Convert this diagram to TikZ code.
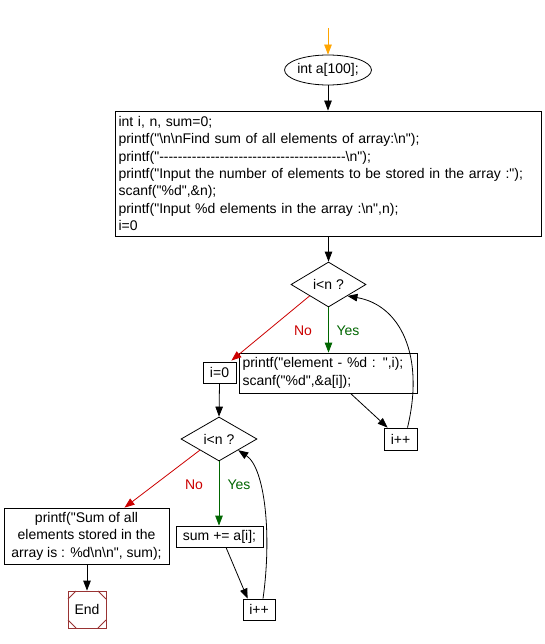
\documentclass[tikz,border=0pt]{standalone}
\usepackage{fontspec}
\newfontfamily\arialf{Liberation Sans}
\usetikzlibrary{shapes.geometric,arrows.meta,calc}
\definecolor{noRed}{HTML}{CC0000}
\definecolor{yesGreen}{HTML}{006600}
\definecolor{endRed}{HTML}{993333}
\definecolor{startOrange}{HTML}{FFA500}
\tikzset{
  x=1pt, y=-1pt,
  every node/.style={font=\arialf\fontsize{14}{17.4}\selectfont},
  every path/.style={line width=0.8pt},
  arr/.style={draw=black, -{Triangle[length=10pt,width=7.5pt]}},
  procbox/.style={draw, rectangle, inner sep=3pt},
  decision/.style={draw, diamond, aspect=1.667, minimum width=75pt, minimum height=45pt, inner sep=0pt},
  nolab/.style={text=noRed},
  yeslab/.style={text=yesGreen},
}
\begin{document}
\begin{tikzpicture}
\useasboundingbox[fill=white] (0,0) rectangle (544,644);

\coordinate (s) at (328,28);
\node[draw, ellipse, minimum width=82pt, minimum height=30pt, inner sep=0pt] (ell) at (328,70) {int a[100];};

\node[procbox, minimum width=426pt, minimum height=125pt, text width=419pt, align=left, anchor=center] (init) at (328,173.5)
{int i, n, sum=0;\\
printf("\textbackslash n\textbackslash nFind sum of all elements of array:\textbackslash n");\\
printf("----------------------------------------\textbackslash n");\\
printf("Input the number of elements to be stored in the array :");\\
scanf("\%d",\&n);\\
printf("Input \%d elements in the array :\textbackslash n",n);\\
i=0};

\node[decision] (d1) at (328.5,284.5) {i<n ?};

\node[procbox, minimum width=33pt, minimum height=21pt, inner sep=2pt] (i0) at (219.5,372.5) {i=0};

\node[procbox, minimum width=177pt, minimum height=40pt, text width=172pt, align=left] (rd) at (328.5,373)
{printf("element - \%d : ",i);\\
scanf("\%d",\&a[i]);};

\node[procbox, minimum width=33pt, minimum height=22pt, inner sep=2pt] (inc1) at (400.5,439) {i++};

\node[decision, minimum width=76pt, minimum height=44pt] (d2) at (219,439) {i<n ?};

\node[procbox, minimum width=87pt, minimum height=21pt, inner sep=2pt] (sum) at (219.5,536.5) {sum += a[i];};

\node[procbox, minimum width=165pt, minimum height=56pt, align=center, inner sep=2pt] (pr) at (86.5,536)
{printf("Sum of all\\
elements stored in the\\
array is : \%d\textbackslash n\textbackslash n", sum);};

\node[procbox, minimum width=32pt, minimum height=21pt, inner sep=2pt] (inc2) at (259,609.5) {i++};

\node[draw=endRed, rectangle, minimum width=38pt, minimum height=37pt, inner sep=0pt] (endn) at (87,609.5) {End};
\draw[endRed] ($(endn.center)+(-11,-18.5)$) -- ($(endn.center)+(-19,-10.5)$)
  ($(endn.center)+(11,-18.5)$) -- ($(endn.center)+(19,-10.5)$)
  ($(endn.center)+(-11,18.5)$) -- ($(endn.center)+(-19,10.5)$)
  ($(endn.center)+(11,18.5)$) -- ($(endn.center)+(19,10.5)$);

% connectors
\draw[arr, draw=startOrange, -{Triangle[length=10pt,width=7.5pt,fill=startOrange]}] (s) -- (ell.north);
\draw[arr] (ell.south) -- (init.north -| ell.south);
\draw[arr] (init.south -| d1.north) -- (d1.north);
\draw[arr, draw=noRed] (d1.south west) -- ($(i0.north east)+(-5,-1)$);
\node[nolab] (nolab1) at (303,331) {No};
\draw[arr, draw=yesGreen] (d1.south) -- (rd.north -| d1.south);
\node[yeslab] (yeslab1) at (348,331) {Yes};
\draw[arr] ($(rd.south)+(22,0)$) -- ($(inc1.north west)+(4,0)$);
\draw[arr] ($(inc1.north)+(7,0)$) .. controls (425,355) and (400,305) .. (d1.south east);

\draw[arr] (i0.south) -- (d2.north);
\draw[arr, draw=noRed] (d2.south west) -- ($(pr.north)+(38,0)$);
\node[nolab] (nolab2) at (194,485) {No};
\draw[arr, draw=yesGreen] (d2.south) -- (sum.north -| d2.south);
\node[yeslab] (yeslab2) at (239,485) {Yes};
\draw[arr] ($(sum.south)+(6.5,0)$) -- ($(inc2.north west)+(5,0)$);
\draw[arr] ($(inc2.north)+(4,0)$) .. controls (272,535) and (265,468) .. (d2.south east);

\draw[arr] (pr.south -| endn.north) -- (endn.north);
\end{tikzpicture}
\end{document}
